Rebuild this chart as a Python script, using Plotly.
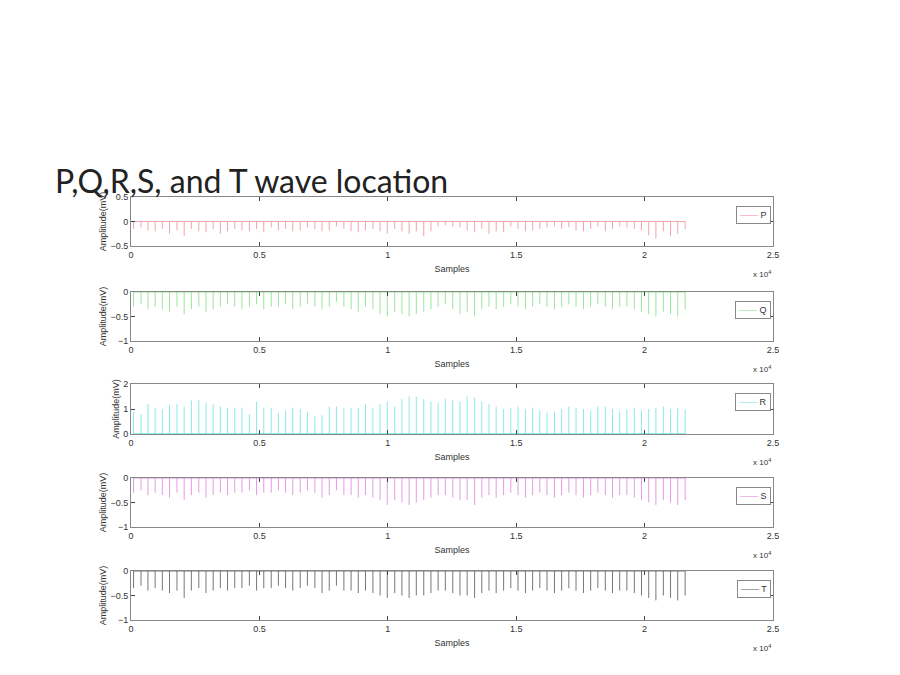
import plotly.graph_objects as go

beat_pos = [100,390,660,940,1220,1500,1790,2070,2350,2640,2920,3200,3480,3760,4040,4320,4610,4890,5170,5460,5740,6020,6300,6590,6870,7160,7440,7720,8000,8290,8570,8850,9130,9420,9700,9980,10270,10550,10830,11110,11400,11680,11960,12240,12530,12810,13090,13380,13660,13940,14220,14510,14790,15070,15360,15640,15920,16200,16490,16770,17050,17330,17620,17900,18180,18470,18750,19030,19310,19600,19880,20160,20440,20730,21010,21290,21580]
P_vals = [-0.15,-0.12,-0.18,-0.2,-0.15,-0.25,-0.18,-0.3,-0.15,-0.2,-0.22,-0.15,-0.25,-0.2,-0.15,-0.18,-0.2,-0.15,-0.22,-0.12,-0.18,-0.15,-0.2,-0.18,-0.12,-0.15,-0.2,-0.18,-0.1,-0.15,-0.2,-0.22,-0.18,-0.15,-0.2,-0.25,-0.15,-0.2,-0.25,-0.2,-0.3,-0.2,-0.1,-0.08,-0.1,-0.12,-0.18,-0.22,-0.15,-0.25,-0.2,-0.22,-0.1,-0.15,-0.2,-0.18,-0.15,-0.12,-0.1,-0.15,-0.12,-0.18,-0.2,-0.15,-0.1,-0.2,-0.15,-0.1,-0.12,-0.15,-0.18,-0.28,-0.35,-0.2,-0.3,-0.25,-0.15]
Q_vals = [-0.3,-0.25,-0.35,-0.3,-0.35,-0.4,-0.3,-0.45,-0.35,-0.3,-0.4,-0.35,-0.3,-0.25,-0.3,-0.35,-0.3,-0.25,-0.35,-0.3,-0.3,-0.25,-0.35,-0.3,-0.25,-0.3,-0.35,-0.3,-0.2,-0.3,-0.35,-0.4,-0.3,-0.35,-0.45,-0.5,-0.4,-0.45,-0.5,-0.45,-0.4,-0.35,-0.3,-0.25,-0.35,-0.45,-0.4,-0.5,-0.35,-0.3,-0.35,-0.3,-0.25,-0.3,-0.35,-0.3,-0.25,-0.3,-0.35,-0.3,-0.25,-0.3,-0.35,-0.3,-0.25,-0.3,-0.35,-0.3,-0.3,-0.35,-0.4,-0.45,-0.5,-0.4,-0.45,-0.5,-0.35]
R_vals = [0.9,0.8,1.2,1.05,1.0,1.15,1.2,1.1,1.35,1.35,1.25,1.2,1.1,1.05,1.05,1.05,0.8,1.3,1.05,1.05,0.85,0.95,1.05,1.0,0.9,0.7,0.75,1.1,1.1,1.05,1.05,1.05,1.2,1.05,1.2,1.3,1.1,1.4,1.5,1.5,1.4,1.3,1.25,1.4,1.35,1.3,1.5,1.45,1.3,1.2,1.1,1.0,1.05,1.1,1.0,1.05,0.95,0.85,0.9,1.0,1.1,1.05,1.0,0.95,1.1,1.1,1.0,0.9,1.0,1.05,0.95,1.0,1.05,1.1,1.0,1.05,1.0]
S_vals = [-0.3,-0.25,-0.35,-0.3,-0.35,-0.4,-0.3,-0.45,-0.35,-0.3,-0.4,-0.35,-0.3,-0.35,-0.3,-0.3,-0.25,-0.35,-0.3,-0.3,-0.25,-0.3,-0.35,-0.3,-0.25,-0.3,-0.4,-0.35,-0.25,-0.35,-0.35,-0.4,-0.35,-0.4,-0.45,-0.55,-0.45,-0.5,-0.55,-0.5,-0.45,-0.4,-0.35,-0.35,-0.4,-0.45,-0.45,-0.55,-0.4,-0.35,-0.4,-0.35,-0.3,-0.35,-0.4,-0.35,-0.3,-0.35,-0.4,-0.35,-0.3,-0.35,-0.4,-0.35,-0.3,-0.35,-0.4,-0.35,-0.35,-0.4,-0.45,-0.5,-0.55,-0.45,-0.5,-0.55,-0.45]
T_vals = [-0.35,-0.3,-0.4,-0.35,-0.4,-0.45,-0.4,-0.55,-0.4,-0.35,-0.45,-0.4,-0.35,-0.4,-0.35,-0.35,-0.3,-0.4,-0.35,-0.35,-0.3,-0.35,-0.4,-0.35,-0.3,-0.35,-0.45,-0.4,-0.3,-0.4,-0.4,-0.45,-0.4,-0.45,-0.5,-0.55,-0.45,-0.5,-0.55,-0.5,-0.5,-0.45,-0.4,-0.4,-0.45,-0.5,-0.5,-0.55,-0.45,-0.4,-0.45,-0.4,-0.35,-0.4,-0.45,-0.4,-0.35,-0.4,-0.45,-0.4,-0.35,-0.4,-0.45,-0.4,-0.35,-0.4,-0.45,-0.4,-0.4,-0.45,-0.5,-0.55,-0.6,-0.5,-0.55,-0.6,-0.5]

series = [("P", P_vals, "#f08a9a", [-0.5, 0.5], [-0.5, 0, 0.5]),
          ("Q", Q_vals, "#7fe07f", [-1, 0], [-1, -0.5, 0]),
          ("R", R_vals, "#6fe3e3", [0, 2], [0, 1, 2]),
          ("S", S_vals, "#e07fe0", [-1, 0], [-1, -0.5, 0]),
          ("T", T_vals, "#555555", [-1, 0], [-1, -0.5, 0])]
x_ticks = [0, 5000, 10000, 15000, 20000, 25000]
x_ticktext = ["0", "0.5", "1", "1.5", "2", "2.5"]

OFF = 8  # page body margin
panels = [(197, 246), (292, 341), (384, 434), (478, 527), (571, 620)]
W, H = 900, 675
x0, x1 = 131 - OFF, 773 - OFF

fig = go.Figure()
layout = {}
for i, ((name, vals, col, yr, yt), (top, bot)) in enumerate(zip(series, panels)):
    sfx = "" if i == 0 else str(i + 1)
    top -= OFF; bot -= OFF
    xs, ys = [], []
    for p, v in zip(beat_pos, vals):
        xs += [p, p, None]; ys += [0, v, None]
    fig.add_trace(go.Scatter(x=xs, y=ys, mode="lines", line=dict(color=col, width=0.8),
                             xaxis="x" + sfx, yaxis="y" + sfx, showlegend=False, hoverinfo="skip"))
    fig.add_trace(go.Scatter(x=[beat_pos[0], beat_pos[-1]], y=[0, 0], mode="lines",
                             line=dict(color=col, width=1.5 if name == "R" else 0.8),
                             xaxis="x" + sfx, yaxis="y" + sfx, showlegend=False, hoverinfo="skip"))
    dom_y = [1 - bot / H, 1 - top / H]
    layout["xaxis" + sfx] = dict(domain=[x0 / W, x1 / W], range=[0, 25000], tickvals=x_ticks,
                               ticktext=x_ticktext, ticks="inside", ticklen=4, mirror="ticks",
                               showline=True, linecolor="#888", linewidth=1, showgrid=False,
                               zeroline=False, anchor="y" + sfx, automargin=False,
                               tickfont=dict(size=9, color="#333"),
                               title=dict(text="Samples", font=dict(size=9, color="#333"), standoff=6))
    layout["yaxis" + sfx] = dict(domain=dom_y, range=yr, tickvals=yt, ticks="inside", ticklen=4,
                               mirror="ticks", showline=True, linecolor="#888", linewidth=1,
                               showgrid=False, zeroline=False, anchor="x" + sfx, automargin=False,
                               tickfont=dict(size=9, color="#333"),
                               title=dict(text="Amplitude(mV)", font=dict(size=9, color="#333"), standoff=2))
    fig.add_annotation(x=0.997, y=0.82, xref="x" + sfx + " domain", yref="y" + sfx + " domain",
                       text="<span style='color:%s'>——</span> %s" % (col, name), showarrow=False,
                       xanchor="right", yanchor="top", bordercolor="#888", borderwidth=1,
                       bgcolor="white", font=dict(size=9, color="#333"), borderpad=3)
    fig.add_annotation(x=1.0, y=-0.42, xref="x" + sfx + " domain", yref="y" + sfx + " domain",
                       text="x 10<sup>4</sup>", showarrow=False, xanchor="right", yanchor="top",
                       font=dict(size=8, color="#333"))

fig.update_layout(**layout)
fig.add_annotation(x=(55 - OFF - 2) / W, y=1 - (183 - OFF - 2) / H, xref="paper", yref="paper",
                   text="P,Q,R,S, and T wave location", showarrow=False, xanchor="left",
                   yanchor="middle", font=dict(size=32, color="#222", family="Lato"))
fig.update_layout(width=W, height=H, margin=dict(l=0, r=0, t=0, b=0),
                  paper_bgcolor="white", plot_bgcolor="white",
                  font=dict(family="Liberation Sans"))
fig.write_html("out.html")
